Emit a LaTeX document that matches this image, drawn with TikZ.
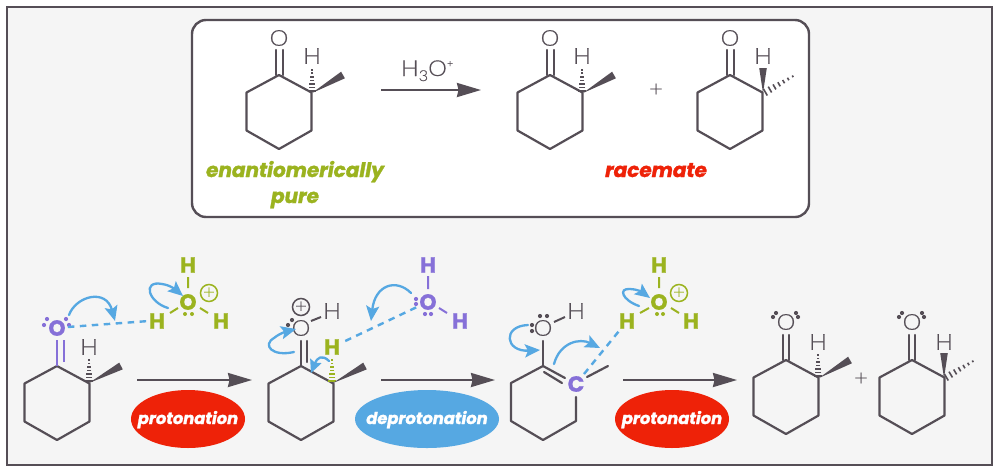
\documentclass[tikz,border=0pt]{standalone}
\usepackage{fontspec}
\setmainfont{Lato}[UprightFont=* Light,UprightFeatures={FakeStretch=1.08,FakeBold=0.25}]
\newfontfamily\pop{Poppins}[BoldItalicFeatures={FakeBold=1.6},BoldFeatures={FakeBold=0.6}]
\usetikzlibrary{arrows.meta,shapes.geometric}
\definecolor{ink}{HTML}{554E56}
\definecolor{pane}{HTML}{F5F5F5}
\definecolor{leaf}{HTML}{9BB31F}
\definecolor{viol}{HTML}{8670D8}
\definecolor{sky}{HTML}{56A8E2}
\definecolor{alarm}{HTML}{EE2208}
\newcommand{\hexring}[2]{\draw[bondline] (#1,#2) -- ++(32.5,17.5) -- ++(0,38) -- ++(-32.5,18.5) -- ++(-32.5,-18.5) -- ++(0,-38) -- cycle;}
\newcommand{\hashb}[5]{% from wide end (#1,#2) to narrow end (#3,#4)
  \foreach \k in {0,...,6}{
    \pgfmathsetmacro{\tt}{(\k+0.3)/6.8}
    \pgfmathsetmacro{\dx}{#3-#1}\pgfmathsetmacro{\dy}{#4-#2}
    \pgfmathsetmacro{\ll}{veclen(\dx,\dy)}
    \pgfmathsetmacro{\hw}{3.3*(1-\tt)+0.7}
    \pgfmathsetmacro{\px}{-\dy/\ll*\hw}\pgfmathsetmacro{\py}{\dx/\ll*\hw}
    \pgfmathsetmacro{\cx}{#1+\tt*\dx}\pgfmathsetmacro{\cy}{#2+\tt*\dy}
    \draw[#5,line width=1.6pt] (\cx+\px,\cy+\py) -- (\cx-\px,\cy-\py);
  }}
\newcommand{\wedgeb}[5]{% from point (#1,#2) to broad end (#3,#4)
  \pgfmathsetmacro{\dx}{#3-#1}\pgfmathsetmacro{\dy}{#4-#2}
  \pgfmathsetmacro{\ll}{veclen(\dx,\dy)}
  \pgfmathsetmacro{\px}{-\dy/\ll*3.8}\pgfmathsetmacro{\py}{\dx/\ll*3.8}
  \fill[#5] (#1,#2) -- (#3+\px,#4+\py) -- (#3-\px,#4-\py) -- cycle;}
\tikzset{
  x=1pt,y=-1pt,
  bondline/.style={draw=ink,line width=2.2pt,line join=round,line cap=round},
  thinatom/.style={text=ink,inner sep=0pt,font=\fontsize{22}{22}\selectfont},
  boldatom/.style={inner sep=0pt,font=\pop\fontsize{22}{22}\selectfont\bfseries},
  boldoxy/.style={inner sep=0pt,font=\pop\fontsize{22}{22}\selectfont\bfseries},
  caption/.style={inner sep=0pt,anchor=base,font=\pop\fontsize{20}{24}\selectfont\bfseries\itshape},
  tag/.style={inner sep=0pt,anchor=base,text=white,font=\pop\fontsize{16.3}{18}\selectfont\bfseries\itshape},
  badge/.style={draw,circle,line width=1.5pt,minimum size=17pt,inner sep=0pt,font=\fontsize{19}{19}\selectfont},
  flow/.style={draw=ink,line width=2.2pt,-{Stealth[length=24pt,width=14pt,inset=1.5pt]}},
  curly/.style={draw=sky,line width=2.3pt,line cap=round,-{Stealth[length=15pt,width=13pt,inset=3pt,fill=sky]}},
  dashline/.style={draw=sky,line width=2.4pt,dash pattern=on 6.5pt off 5.5pt},
  greenbond/.style={draw=leaf,line width=2pt},
  violbond/.style={draw=viol,line width=2pt},
  inkbond/.style={draw=ink,line width=2pt},
  plainplus/.style={text=ink,inner sep=0pt,font=\fontsize{22}{22}\selectfont},
}
\begin{document}
\begin{tikzpicture}
\useasboundingbox (0,0) rectangle (1000,472);
\fill[white] (0,0) rectangle (1000,472);
\draw[ink,line width=2.4pt,fill=pane] (7,7) rectangle (992,465);
\draw[ink,line width=2.4pt,fill=white,rounded corners=14pt] (192,20) rectangle (809,217);

%% top molecules
\hexring{279}{75}
\draw[bondline] (276,75) -- (276,50) (283,75) -- (283,50);
\node[thinatom] (oa) at (279,38) {O};
\node[thinatom] (ha) at (312,56) {H};
\hashb{312}{92}{312}{68}{ink}
\wedgeb{312}{93}{343}{75}{ink}

\coordinate (ra1) at (381,90); \coordinate (ra2) at (481,90);
\draw[flow] (ra1) -- (ra2);
\node[thinatom,anchor=base] (hplus) at (427,76) {H\raisebox{-5pt}{\fontsize{15}{15}\selectfont 3}O\raisebox{9pt}{\fontsize{10}{10}\selectfont +}};

\hexring{550}{75}
\draw[bondline] (547,75) -- (547,50) (554,75) -- (554,50);
\node[thinatom] (ob) at (550,38) {O};
\node[thinatom] (hb) at (582,56) {H};
\hashb{582}{92}{582}{68}{ink}
\wedgeb{583}{93}{614}{75}{ink}

\node[plainplus] (plusa) at (656,90) {+};

\hexring{730}{75}
\draw[bondline] (727,75) -- (727,50) (734,75) -- (734,50);
\node[thinatom] (oc) at (730,38) {O};
\node[thinatom] (hc) at (763,56) {H};
\wedgeb{763}{93}{763}{68}{ink}
\hashb{764}{93}{795}{75}{ink}

\node[caption,text=leaf] (enan) at (295,177) {enantiomerically};
\node[caption,text=leaf] (pure) at (295,203) {pure};
\node[caption,text=alarm] (race) at (656,177) {racemate};

%% step 1
\hexring{57}{366}
\draw[draw=viol,line width=2.2pt] (57,366) -- (57,340) (64,362) -- (64,340);
\node[boldoxy,text=viol] (o1) at (57,328) {O};
\foreach \p/\q in {44/325,47/319,66/319,69/325}{\fill[viol] (\p,\q) circle (2.1pt);}
\node[thinatom] (h1) at (89,347) {H};
\hashb{89}{382}{89}{358}{ink}
\wedgeb{89}{383}{121}{366}{ink}

\node[boldoxy,text=leaf] (g1o) at (188,302) {O};
\node[boldatom,text=leaf] (g1t) at (188,265) {H};
\node[boldatom,text=leaf] (g1l) at (157,321) {H};
\node[boldatom,text=leaf] (g1r) at (221,321) {H};
\node[badge,draw=leaf,text=leaf] (g1p) at (209,293) {+};
\draw[greenbond] (188,277) -- (188,288) (170,313) -- (178,308) (200,308) -- (208,313);
\foreach \p in {185,192}{\fill[leaf] (\p,314) circle (2pt);}

\draw[dashline] (o1.east) ++(2,-1) -- (g1l.west);
\draw[curly] (69,315) .. controls (76,296) and (106,288) .. (115,321);
\draw[curly] (168,308) .. controls (148,302) and (142,280) .. (162,284) .. controls (170,285) and (176,290) .. (183,296);

\coordinate (s1a) at (137,380); \coordinate (s1b) at (252,380);
\draw[flow] (s1a) -- (s1b);
\node[fill=alarm,ellipse,minimum width=114pt,minimum height=58pt,inner sep=0pt] (e1) at (188,419) {};
\node[tag] (t1) at (188,424) {protonation};

%% step 2
\hexring{301}{366}
\draw[bondline] (301,366) -- (301,341) (307,362) -- (307,341);
\node[thinatom] (o2) at (301,328) {O};
\node[badge,draw=ink,text=ink] (p2) at (301,307) {+};
\node[thinatom] (h2) at (332,311) {H};
\draw[inkbond] (311,321) -- (321,317);
\foreach \p/\q in {288/325,292/320}{\fill[ink] (\p,\q) circle (2.1pt);}
\node[boldatom,text=leaf] (h2g) at (332,347) {H};
\hashb{332}{382}{332}{358}{leaf}
\wedgeb{333}{383}{365}{366}{ink}

\node[boldoxy,text=viol] (w1o) at (428,302) {O};
\node[boldatom,text=viol] (w1t) at (428,265) {H};
\node[boldatom,text=viol] (w1r) at (460,321) {H};
\draw[violbond] (428,276) -- (428,289) (439,308) -- (447,313);
\foreach \p/\q in {416/299,416/304,425/314,431/314}{\fill[viol] (\p,\q) circle (2.1pt);}

\draw[dashline] (h2g.east) ++(5,-6) -- (417,307);
\draw[curly] (411,293) .. controls (396,278) and (375,285) .. (371,321);
\draw[curly] (294,352) .. controls (272,357) and (262,345) .. (274,338) .. controls (280,333) and (288,331) .. (296,329);
\draw[curly,-{Stealth[length=13pt,width=12pt,inset=2pt,fill=sky]}] (329,361) .. controls (322,354) and (317,358) .. (311,373);

\coordinate (s2a) at (381,380); \coordinate (s2b) at (495,380);
\draw[flow] (s2a) -- (s2b);
\node[fill=sky,ellipse,minimum width=144pt,minimum height=58pt,inner sep=0pt] (e2) at (427,419) {};
\node[tag] (t2) at (427,424) {deprotonation};

%% step 3
\draw[bondline] (576,397) -- (576,421) -- (543,440) -- (511,421) -- (511,383) -- (543,366) -- (565,378);
\draw[bondline] (544,372) -- (562,383);
\draw[bondline] (587,377) -- (608,366);
\draw[bondline] (543,366) -- (543,341);
\node[boldoxy,text=viol] (c3) at (576,384) {C};
\node[thinatom] (o3) at (543,328) {O};
\node[thinatom] (h3) at (576,311) {H};
\draw[inkbond] (554,322) -- (565,317);
\foreach \p/\q in {540/316,547/316,532/325,532/331}{\fill[ink] (\p,\q) circle (2.1pt);}

\node[boldoxy,text=leaf] (g3o) at (659,302) {O};
\node[boldatom,text=leaf] (g3t) at (659,265) {H};
\node[boldatom,text=leaf] (g3l) at (627,321) {H};
\node[boldatom,text=leaf] (g3r) at (691,321) {H};
\node[badge,draw=leaf,text=leaf] (g3p) at (679,293) {+};
\draw[greenbond] (659,277) -- (659,288) (640,313) -- (649,308) (671,308) -- (679,313);
\foreach \p in {657,663}{\fill[leaf] (\p,314) circle (2pt);}

\draw[dashline] (584,374) -- (619,331);
\draw[curly] (528,325) .. controls (502,326) and (505,352) .. (540,350);
\draw[curly] (554,364) .. controls (560,342) and (580,338) .. (600,348);
\draw[curly] (639,306) .. controls (622,300) and (618,288) .. (630,289) .. controls (636,289) and (642,292) .. (650,298);

\coordinate (s3a) at (623,380); \coordinate (s3b) at (737,380);
\draw[flow] (s3a) -- (s3b);
\node[fill=alarm,ellipse,minimum width=114pt,minimum height=58pt,inner sep=0pt] (e3) at (672,419) {};
\node[tag] (t3) at (672,424) {protonation};

%% products
\hexring{786}{360}
\draw[bondline] (783,360) -- (783,335) (789,360) -- (789,335);
\node[thinatom] (o4) at (786,322) {O};
\foreach \p/\q in {773/317,776/313,796/313,798/317}{\fill[ink] (\p,\q) circle (2.1pt);}
\node[thinatom] (h4) at (818,342) {H};
\hashb{818}{377}{818}{353}{ink}
\wedgeb{819}{378}{850}{360}{ink}
\node[plainplus] (plusb) at (861,379) {+};

\hexring{912}{360}
\draw[bondline] (909,360) -- (909,335) (915,360) -- (915,335);
\node[thinatom] (o5) at (912,322) {O};
\foreach \p/\q in {899/317,902/313,922/313,924/317}{\fill[ink] (\p,\q) circle (2.1pt);}
\node[thinatom] (h5) at (944,342) {H};
\wedgeb{944}{378}{944}{353}{ink}
\hashb{945}{378}{975}{360}{ink}
\end{tikzpicture}
\end{document}
